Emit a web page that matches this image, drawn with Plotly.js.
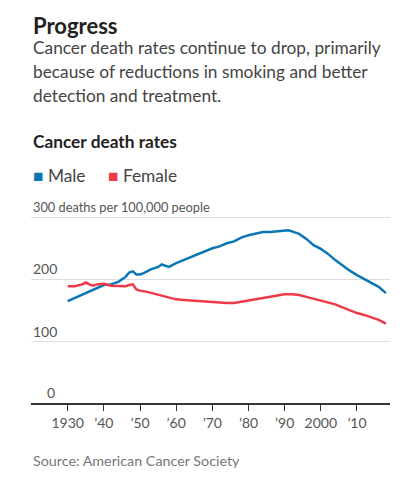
<!DOCTYPE html>
<html>
<head>
<meta charset="utf-8">
<script src="https://cdn.plot.ly/plotly-3.0.1.min.js"></script>
<style>
html,body{margin:0;padding:0;background:#fff;}
#chart{width:405px;height:477px;}
</style>
</head>
<body>
<div id="chart"></div>
<script>
const maleYears = [1930,1932,1934,1936,1938,1940,1942,1944,1946,1947,1948,1949,1950,1951,1953,1955,1956,1957,1958,1960,1962,1964,1966,1968,1970,1972,1974,1976,1978,1980,1982,1984,1986,1988,1990,1991,1992,1994,1996,1998,2000,2002,2004,2006,2008,2010,2012,2014,2016,2018];
const maleRates = [165,170,176,180,186,191,192,196,204,211,213,208,208,210,216,220,224,222,220,226,231,235,240,245,250,253,258,261,267,271,274,276,276,277,279,279,277,273,265,255,249,241,231,222,214,207,201,195,188,178];

const femaleYears = [1930,1932,1934,1935,1936,1937,1938,1940,1942,1944,1946,1947,1948,1949,1950,1952,1954,1956,1958,1960,1962,1964,1966,1968,1970,1972,1974,1976,1978,1980,1982,1984,1986,1988,1990,1992,1994,1996,1998,2000,2002,2004,2006,2008,2010,2012,2014,2016,2018];
const femaleRates = [189,189,192,195,192,190,192,193,190,189,189,191,192,184,182,180,177,174,171,168,167,166,165,164,164,163,162,162,164,166,169,171,172,174,176,176,175,172,169,167,164,160,155,150,146,143,139,135,129];

const tickYears = [1930,1940,1950,1960,1970,1980,1990,2000,2010];
const tickLabels = ['1930','\u201940','\u201950','\u201960','\u201970','\u201980','\u201990','2000','\u201910'];
const yTicks = [100,200];
const subtitleLines = [
  'Cancer death rates continue to drop, primarily',
  'because of reductions in smoking and better',
  'detection and treatment.'
];

const maleColor = '#0a77b5';
const femaleColor = '#ee3a46';
const FONT = 'Lato, "Open Sans", sans-serif';

// page pixel (from top) -> paper y (plot area spans 214..404)
const PT = 214, PB = 404;
const py = p => (PB - p) / (PB - PT);
const px = p => (p - 31) / 359;

const traces = [
  {x: maleYears, y: maleRates, type: 'scatter', mode: 'lines', name: 'Male',
   line: {color: maleColor, width: 2.5}, hoverinfo: 'skip'},
  {x: femaleYears, y: femaleRates, type: 'scatter', mode: 'lines', name: 'Female',
   line: {color: femaleColor, width: 2.5}, hoverinfo: 'skip'}
];

const annotations = [
  {text: '<b>Progress</b>', xref: 'paper', yref: 'paper', x: 0, y: py(25),
   xanchor: 'left', yanchor: 'middle', showarrow: false,
   font: {family: FONT, size: 22, color: '#222'}},
  {text: '<b>Cancer death rates</b>', xref: 'paper', yref: 'paper', x: 0, y: py(141),
   xanchor: 'left', yanchor: 'middle', showarrow: false,
   font: {family: FONT, size: 17.3, color: '#222'}},
  {text: '<span style="color:' + maleColor + '">\u25A0</span> Male',
   xref: 'paper', yref: 'paper', x: 0, y: py(175), xanchor: 'left', yanchor: 'middle',
   showarrow: false, font: {family: FONT, size: 17.3, color: '#444'}},
  {text: '<span style="color:' + femaleColor + '">\u25A0</span> Female',
   xref: 'paper', yref: 'paper', x: px(106), y: py(175), xanchor: 'left', yanchor: 'middle',
   showarrow: false, font: {family: FONT, size: 17.3, color: '#444'}},
  {text: '300 deaths per 100,000 people', xref: 'paper', yref: 'y', x: 0, y: 300,
   xanchor: 'left', yanchor: 'bottom', showarrow: false, yshift: 0,
   font: {family: FONT, size: 12.8, color: '#555'}},
  {text: 'Source: American Cancer Society', xref: 'paper', yref: 'paper', x: 0, y: py(460),
   xanchor: 'left', yanchor: 'middle', showarrow: false,
   font: {family: FONT, size: 14.3, color: '#777'}}
];
subtitleLines.forEach((t, i) => annotations.push({
  text: t, xref: 'paper', yref: 'paper', x: 0, y: py(47.5 + 24 * i),
  xanchor: 'left', yanchor: 'middle', showarrow: false,
  font: {family: FONT, size: 17.3, color: '#444'}
}));
yTicks.forEach(v => annotations.push({
  text: String(v), xref: 'paper', yref: 'y', x: 0, y: v,
  xanchor: 'left', yanchor: 'bottom', showarrow: false, yshift: 0,
  font: {family: FONT, size: 14, color: '#555'}
}));
annotations.push({
  text: '0', xref: 'paper', yref: 'y', x: px(45), y: 0,
  xanchor: 'left', yanchor: 'bottom', showarrow: false, yshift: 1,
  font: {family: FONT, size: 14, color: '#555'}
});

const layout = {
  width: 405, height: 477,
  margin: {l: 31, r: 15, t: PT, b: 477 - PB},
  paper_bgcolor: '#fff', plot_bgcolor: '#fff',
  showlegend: false,
  font: {family: FONT, color: '#555'},
  xaxis: {
    range: [1919.85, 2019.13], tickvals: tickYears, ticktext: tickLabels,
    ticks: 'outside', ticklen: 6, tickwidth: 1, tickcolor: '#333',
    showgrid: false, zeroline: false, showline: false,
    tickfont: {family: FONT, size: 14, color: '#555'}, fixedrange: true
  },
  yaxis: {
    range: [0, 305], tickvals: [100, 200, 300], showticklabels: false,
    showgrid: true, gridcolor: '#dedede', gridwidth: 1,
    zeroline: true, zerolinecolor: '#333', zerolinewidth: 1.5,
    showline: false, fixedrange: true
  },
  annotations: annotations
};

Plotly.newPlot('chart', traces, layout, {displayModeBar: false, staticPlot: true});
</script>
</body>
</html>
